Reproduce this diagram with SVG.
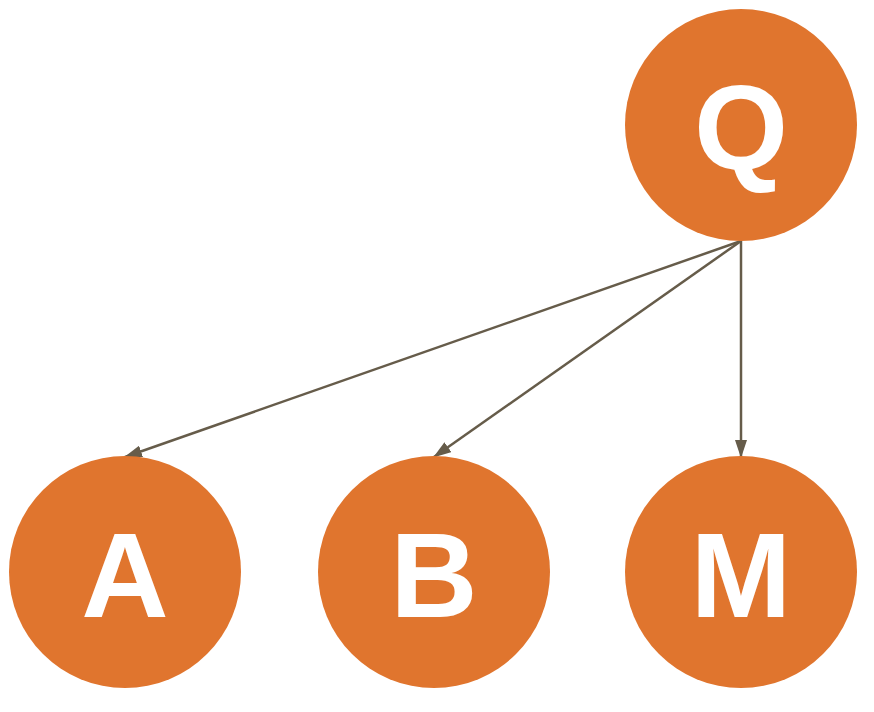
<svg xmlns="http://www.w3.org/2000/svg" width="874" height="712" viewBox="0 0 874 712">
<style>
.node circle{fill:#e0752e;}
.node text{fill:#ffffff;font-family:"Liberation Sans",Arial,sans-serif;font-weight:bold;font-size:121px;text-anchor:middle;}
.edge{stroke:#665c4a;stroke-width:2.5;fill:none;marker-end:url(#arr);}
</style>
<defs>
<marker id="arr" markerWidth="18" markerHeight="12" refX="17" refY="6" orient="auto" markerUnits="userSpaceOnUse" viewBox="0 0 18 12">
<path d="M0,0 L18,6 L0,12 Z" fill="#665c4a"/>
</marker>
</defs>
<rect width="874" height="712" fill="#ffffff"/>
<g id="connectors">
<line class="edge" x1="741" y1="241" x2="125" y2="457"/>
<line class="edge" x1="741" y1="241" x2="434" y2="457"/>
<line class="edge" x1="741" y1="241" x2="741" y2="457"/>
</g>
<g id="node-Q" class="node"><circle cx="741" cy="125" r="116"/><text x="741" y="169">Q</text></g>
<g id="node-A" class="node"><circle cx="125" cy="572" r="116"/><text x="125" y="617">A</text></g>
<g id="node-B" class="node"><circle cx="434" cy="572" r="116"/><text x="434" y="617">B</text></g>
<g id="node-M" class="node"><circle cx="741" cy="572" r="116"/><text x="741" y="617">M</text></g>
</svg>
